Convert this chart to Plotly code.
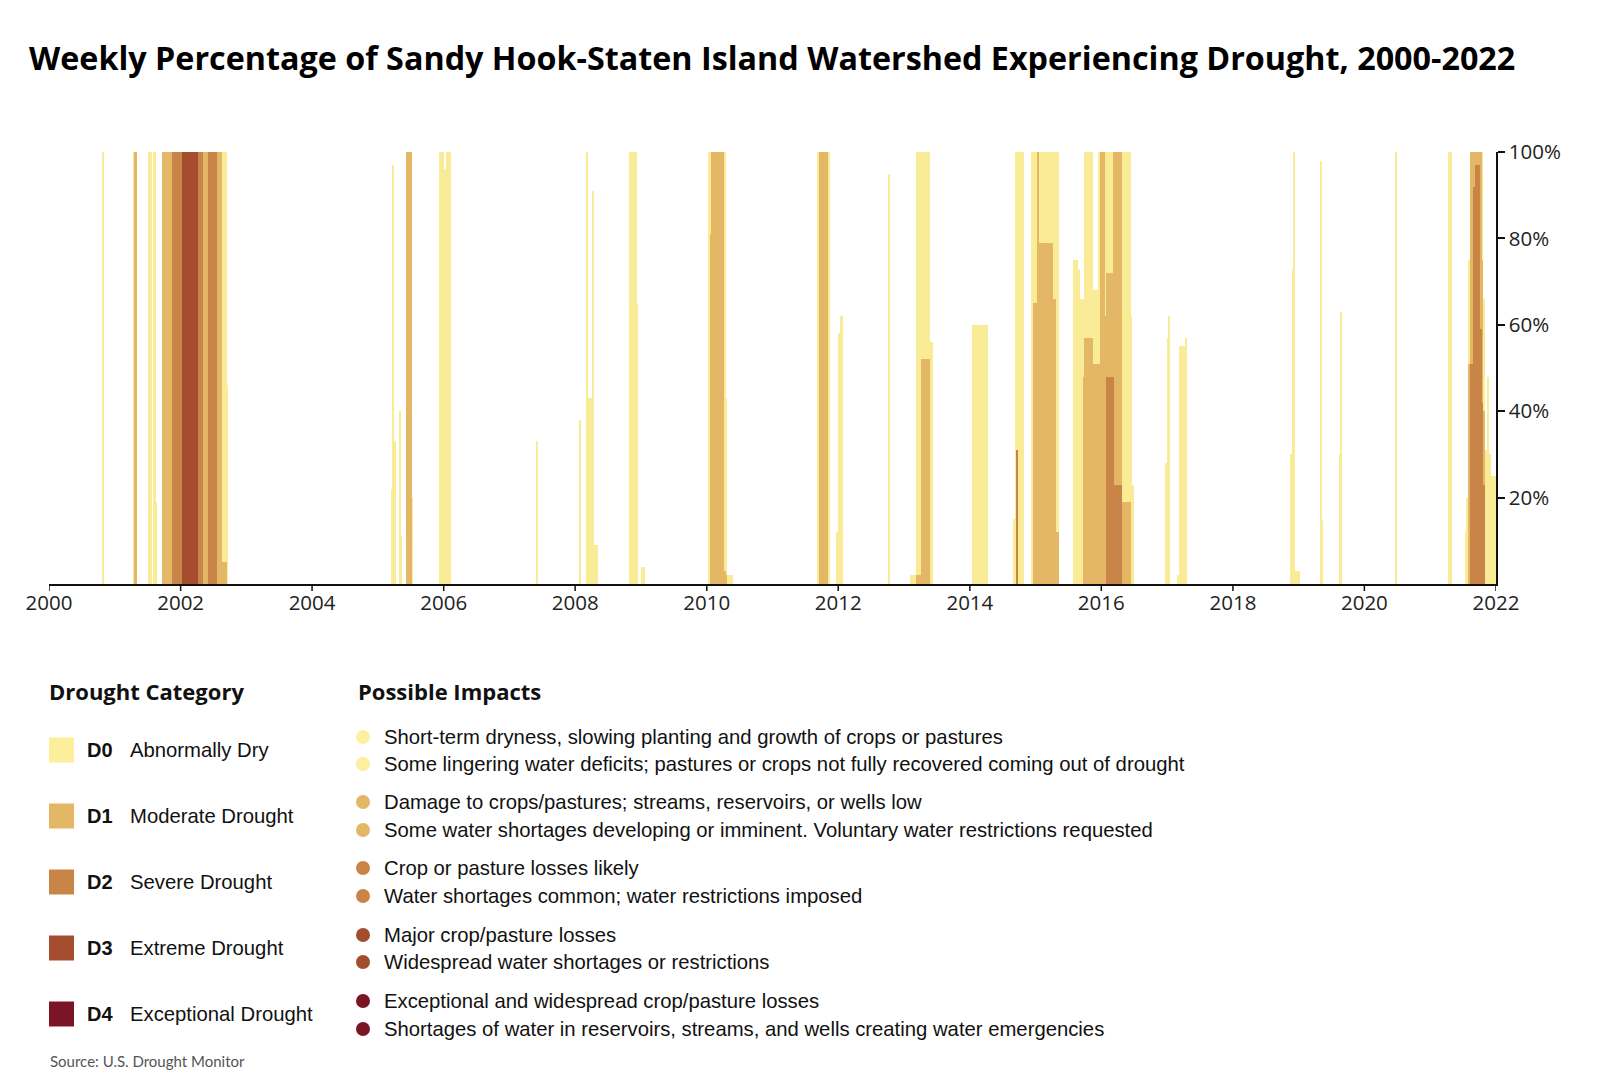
import pandas as pd
import plotly.graph_objects as go

# ---------------- data ----------------
categories = ["D0", "D1", "D2", "D3", "D4"]
category_names = ["Abnormally Dry", "Moderate Drought", "Severe Drought",
                  "Extreme Drought", "Exceptional Drought"]
impacts = [
    ["Short-term dryness, slowing planting and growth of crops or pastures",
     "Some lingering water deficits; pastures or crops not fully recovered coming out of drought"],
    ["Damage to crops/pastures; streams, reservoirs, or wells low",
     "Some water shortages developing or imminent. Voluntary water restrictions requested"],
    ["Crop or pasture losses likely",
     "Water shortages common; water restrictions imposed"],
    ["Major crop/pasture losses",
     "Widespread water shortages or restrictions"],
    ["Exceptional and widespread crop/pasture losses",
     "Shortages of water in reservoirs, streams, and wells creating water emergencies"],
]
x_tick_years = [2000, 2002, 2004, 2006, 2008, 2010, 2012, 2014, 2016, 2018, 2020, 2022]
y_tick_vals = [20, 40, 60, 80, 100]
y_tick_text = ["20%", "40%", "60%", "80%", "100%"]

# weekly drought coverage, run-length encoded: start week, number of weeks,
# cumulative % area in D0+, D1+, D2+, D3+
seg_start = ["2000-10-23", "2001-04-13", "2001-04-20", "2001-07-05", "2001-07-19", "2001-08-03", "2001-08-17",
             "2001-09-20", "2001-11-15", "2002-01-10", "2002-04-04", "2002-05-02", "2002-06-06", "2002-07-18",
             "2002-08-15", "2002-09-12",
             "2005-03-18", "2005-03-25", "2005-04-01", "2005-04-29", "2005-05-06", "2005-06-07", "2005-07-05",
             "2005-12-07", "2006-01-04", "2006-01-18",
             "2007-05-31", "2008-01-23", "2008-03-04", "2008-03-11", "2008-04-08", "2008-04-15",
             "2008-10-27", "2008-12-08", "2009-01-06",
             "2010-01-13", "2010-01-20", "2010-01-27", "2010-02-24", "2010-03-03", "2010-04-07", "2010-04-14",
             "2010-04-21",
             "2011-09-07", "2011-09-21", "2011-11-02", "2011-12-24", "2011-12-31", "2012-01-14", "2012-10-05",
             "2013-02-03", "2013-03-10", "2013-04-07", "2013-05-26", "2014-01-15",
             "2014-09-02", "2014-09-09", "2014-09-16", "2014-09-23",
             "2014-12-09", "2014-12-23", "2015-01-13", "2015-01-20", "2015-04-07", "2015-04-21",
             "2015-07-31", "2015-08-21", "2015-09-04", "2015-09-25", "2015-10-02", "2015-11-13", "2015-12-18",
             "2015-12-25", "2016-01-22", "2016-01-29", "2016-03-11", "2016-04-22", "2016-06-10", "2016-06-17",
             "2016-12-25", "2017-01-01", "2017-01-08", "2017-02-25", "2017-03-11", "2017-04-15",
             "2018-11-14", "2018-11-28", "2018-12-05", "2018-12-12", "2019-05-01", "2019-05-08",
             "2019-08-14", "2019-08-21", "2020-06-24", "2021-04-12",
             "2021-07-16", "2021-07-23", "2021-07-30", "2021-08-13", "2021-08-27", "2021-09-10", "2021-10-01",
             "2021-10-15", "2021-10-22", "2021-10-29", "2021-11-12", "2021-11-19", "2021-12-03"]
seg_weeks = [1, 1, 2, 1, 1, 2, 1,
             8, 8, 12, 4, 5, 6, 4,
             4, 1,
             1, 1, 1, 1, 1, 4, 1,
             4, 2, 3,
             1, 1, 1, 4, 1, 3,
             6, 1, 2,
             1, 1, 4, 1, 5, 1, 1,
             5,
             2, 6, 2, 1, 2, 2, 1,
             5, 4, 7, 2, 12,
             1, 1, 1, 5,
             2, 3, 1, 11, 2, 3,
             3, 2, 3, 1, 6, 5, 1,
             4, 1, 6, 6, 7, 1, 2,
             1, 1, 1, 2, 5, 1,
             2, 1, 1, 4, 1, 1,
             1, 1, 1, 3,
             1, 1, 2, 2, 2, 3, 2,
             1, 1, 2, 1, 2, 4]
d0_pct = [100, 100, 100, 100, 100, 100, 19,
          100, 100, 100, 100, 100, 100, 100,
          100, 46,
          22, 97, 33, 40, 11, 100, 20,
          100, 96, 100,
          33, 38, 100, 43, 91, 9,
          100, 65, 4,
          100, 100, 100, 100, 100, 100, 43,
          2,
          100, 100, 100, 12, 58, 62, 95,
          2, 100, 100, 56, 60,
          15, 100, 100, 100,
          100, 100, 100, 100, 100, 100,
          75, 73, 66, 66, 100, 68, 100,
          100, 100, 100, 100, 100, 62, 23,
          28, 57, 62, 2, 55, 57,
          30, 73, 100, 3, 98, 15,
          30, 63, 100, 100,
          12, 20, 75, 100, 100, 100, 100,
          100, 66, 31, 48, 30, 25]
d1_pct = [0, 0, 100, 0, 0, 0, 0,
          100, 100, 100, 100, 100, 100, 100,
          5, 0,
          0, 0, 0, 0, 0, 100, 0,
          0, 0, 0,
          0, 0, 0, 0, 0, 0,
          0, 0, 0,
          0, 81, 100, 65, 100, 3, 2,
          0,
          0, 100, 0, 0, 0, 0, 0,
          0, 2, 52, 0, 0,
          0, 0, 31, 0,
          0, 65, 100, 79, 66, 12,
          0, 0, 0, 48, 57, 51, 51,
          100, 62, 72, 100, 19, 0, 0,
          0, 0, 0, 0, 0, 0,
          0, 0, 0, 0, 0, 0,
          0, 0, 0, 0,
          0, 0, 51, 100, 100, 100, 100,
          75, 40, 0, 0, 0, 0]
d2_pct = [0, 0, 0, 0, 0, 0, 0,
          0, 100, 100, 100, 0, 100, 0,
          0, 0,
          0, 0, 0, 0, 0, 0, 0,
          0, 0, 0,
          0, 0, 0, 0, 0, 0,
          0, 0, 0,
          0, 0, 0, 0, 0, 0, 0,
          0,
          0, 0, 0, 0, 0, 0, 0,
          0, 0, 0, 0, 0,
          0, 0, 31, 0,
          0, 0, 0, 0, 0, 0,
          0, 0, 0, 0, 0, 0, 0,
          0, 0, 48, 23, 0, 0, 0,
          0, 0, 0, 0, 0, 0,
          0, 0, 0, 0, 0, 0,
          0, 0, 0, 0,
          0, 0, 0, 51, 92, 97, 59,
          42, 23, 0, 0, 0, 0]
d3_pct = [0, 0, 0, 0, 0, 0, 0,
          0, 0, 100, 0, 0, 0, 0,
          0, 0] + [0] * (len(seg_start) - 16)

# ---------------- styling ----------------
bar_colors = ["#FAEB97", "#E4B766", "#C98447", "#A34C2E", "#7B1424"]
dot_colors = ["#FCEF9E", "#E4B766", "#C98447", "#A34C2E", "#7B1424"]
TXT = "#111111"

# expand run-length segments to weekly rows
rows = []
for s, n, a, b, c, d in zip(seg_start, seg_weeks, d0_pct, d1_pct, d2_pct, d3_pct):
    for dt in pd.date_range(s, periods=n, freq="7D"):
        rows.append((dt, a, b, c, d))
weekly = pd.DataFrame(rows, columns=["week", "D0", "D1", "D2", "D3"])

WEEK_MS = 7 * 24 * 3600 * 1000
fig = go.Figure()
for i, cat in enumerate(["D0", "D1", "D2", "D3"]):
    fig.add_trace(go.Bar(
        x=weekly["week"], y=weekly[cat], width=WEEK_MS, offset=0,
        marker=dict(color=bar_colors[i], line=dict(width=0)),
        name=cat, showlegend=False, hoverinfo="skip"))

# plot area in pixels
L, R, T, B = 49, 1496, 152, 584
W, H = R - L, B - T


def px(x):
    return (x - L) / W


def py(y):
    return (B - y) / H


x_tick_dates = [f"{y}-01-01" for y in x_tick_years]

fig.update_layout(
    width=1600, height=1092,
    margin=dict(l=L, r=1600 - R, t=T, b=1092 - B),
    paper_bgcolor="white", plot_bgcolor="white",
    barmode="overlay", bargap=0,
    font=dict(family="Lato", color=TXT),
    xaxis=dict(type="date", range=["2000-01-01", "2022-01-01"],
               tickvals=x_tick_dates,
               ticktext=[str(y) for y in x_tick_years],
               ticks="", showline=True, linecolor="#111", linewidth=1.5,
               showgrid=False, zeroline=False,
               tickfont=dict(family="Open Sans", size=20.5, color="#222")),
    yaxis=dict(range=[0, 100], side="right", tickvals=y_tick_vals, ticktext=y_tick_text,
               ticks="outside", ticklen=7, tickcolor="#111", tickwidth=1.5,
               showline=True, linecolor="#111", linewidth=1.5,
               showgrid=False, zeroline=False,
               tickfont=dict(family="Open Sans", size=20.5, color="#222")),
)

ann = []
shapes = []
# x tick marks (drawn as short lines below the axis)
for d in x_tick_dates:
    shapes.append(dict(type="line", xref="x", yref="paper", x0=d, x1=d,
                       y0=0, y1=py(B + 7), line=dict(color="#111", width=1.5)))
# title
ann.append(dict(x=px(27), y=py(57), xref="paper", yref="paper", xanchor="left", yanchor="middle",
                text="<b>Weekly Percentage of Sandy Hook-Staten Island Watershed Experiencing Drought, 2000-2022</b>",
                showarrow=False, font=dict(family="Open Sans", size=32.3, color="#000")))
# headings
ann.append(dict(x=px(47), y=py(691), xref="paper", yref="paper", xanchor="left", yanchor="middle",
                text="<b>Drought Category</b>", showarrow=False,
                font=dict(family="Open Sans", size=22, color="#111")))
ann.append(dict(x=px(356), y=py(691), xref="paper", yref="paper", xanchor="left", yanchor="middle",
                text="<b>Possible Impacts</b>", showarrow=False,
                font=dict(family="Open Sans", size=22, color="#111")))

cat_y = [750, 816, 882, 948, 1014]
imp_y = [(737, 764), (802, 830), (868, 896), (935, 962), (1001, 1029)]
for i in range(5):
    cy = cat_y[i]
    shapes.append(dict(type="rect", xref="paper", yref="paper",
                       x0=px(49), x1=px(74), y0=py(cy + 12.5), y1=py(cy - 12.5),
                       fillcolor=bar_colors[i] if i > 0 else "#FCEE9A", line=dict(width=0)))
    ann.append(dict(x=px(85), y=py(cy), xref="paper", yref="paper", xanchor="left", yanchor="middle",
                    text=f"<b>{categories[i]}</b>", showarrow=False,
                    font=dict(family="Liberation Sans", size=20, color=TXT)))
    ann.append(dict(x=px(128), y=py(cy), xref="paper", yref="paper", xanchor="left", yanchor="middle",
                    text=category_names[i], showarrow=False,
                    font=dict(family="Liberation Sans", size=20.3, color=TXT)))
    for j in range(2):
        yy = imp_y[i][j]
        shapes.append(dict(type="circle", xref="paper", yref="paper",
                           x0=px(356), x1=px(370), y0=py(yy + 7), y1=py(yy - 7),
                           fillcolor=dot_colors[i], line=dict(width=0)))
        ann.append(dict(x=px(382), y=py(yy), xref="paper", yref="paper", xanchor="left", yanchor="middle",
                        text=impacts[i][j], showarrow=False,
                        font=dict(family="Liberation Sans", size=20.3, color=TXT)))

ann.append(dict(x=px(48), y=py(1061), xref="paper", yref="paper", xanchor="left", yanchor="middle",
                text="Source: U.S. Drought Monitor", showarrow=False,
                font=dict(family="Lato", size=15, color="#555")))

fig.update_layout(annotations=ann, shapes=shapes)
fig.write_html("out.html")
